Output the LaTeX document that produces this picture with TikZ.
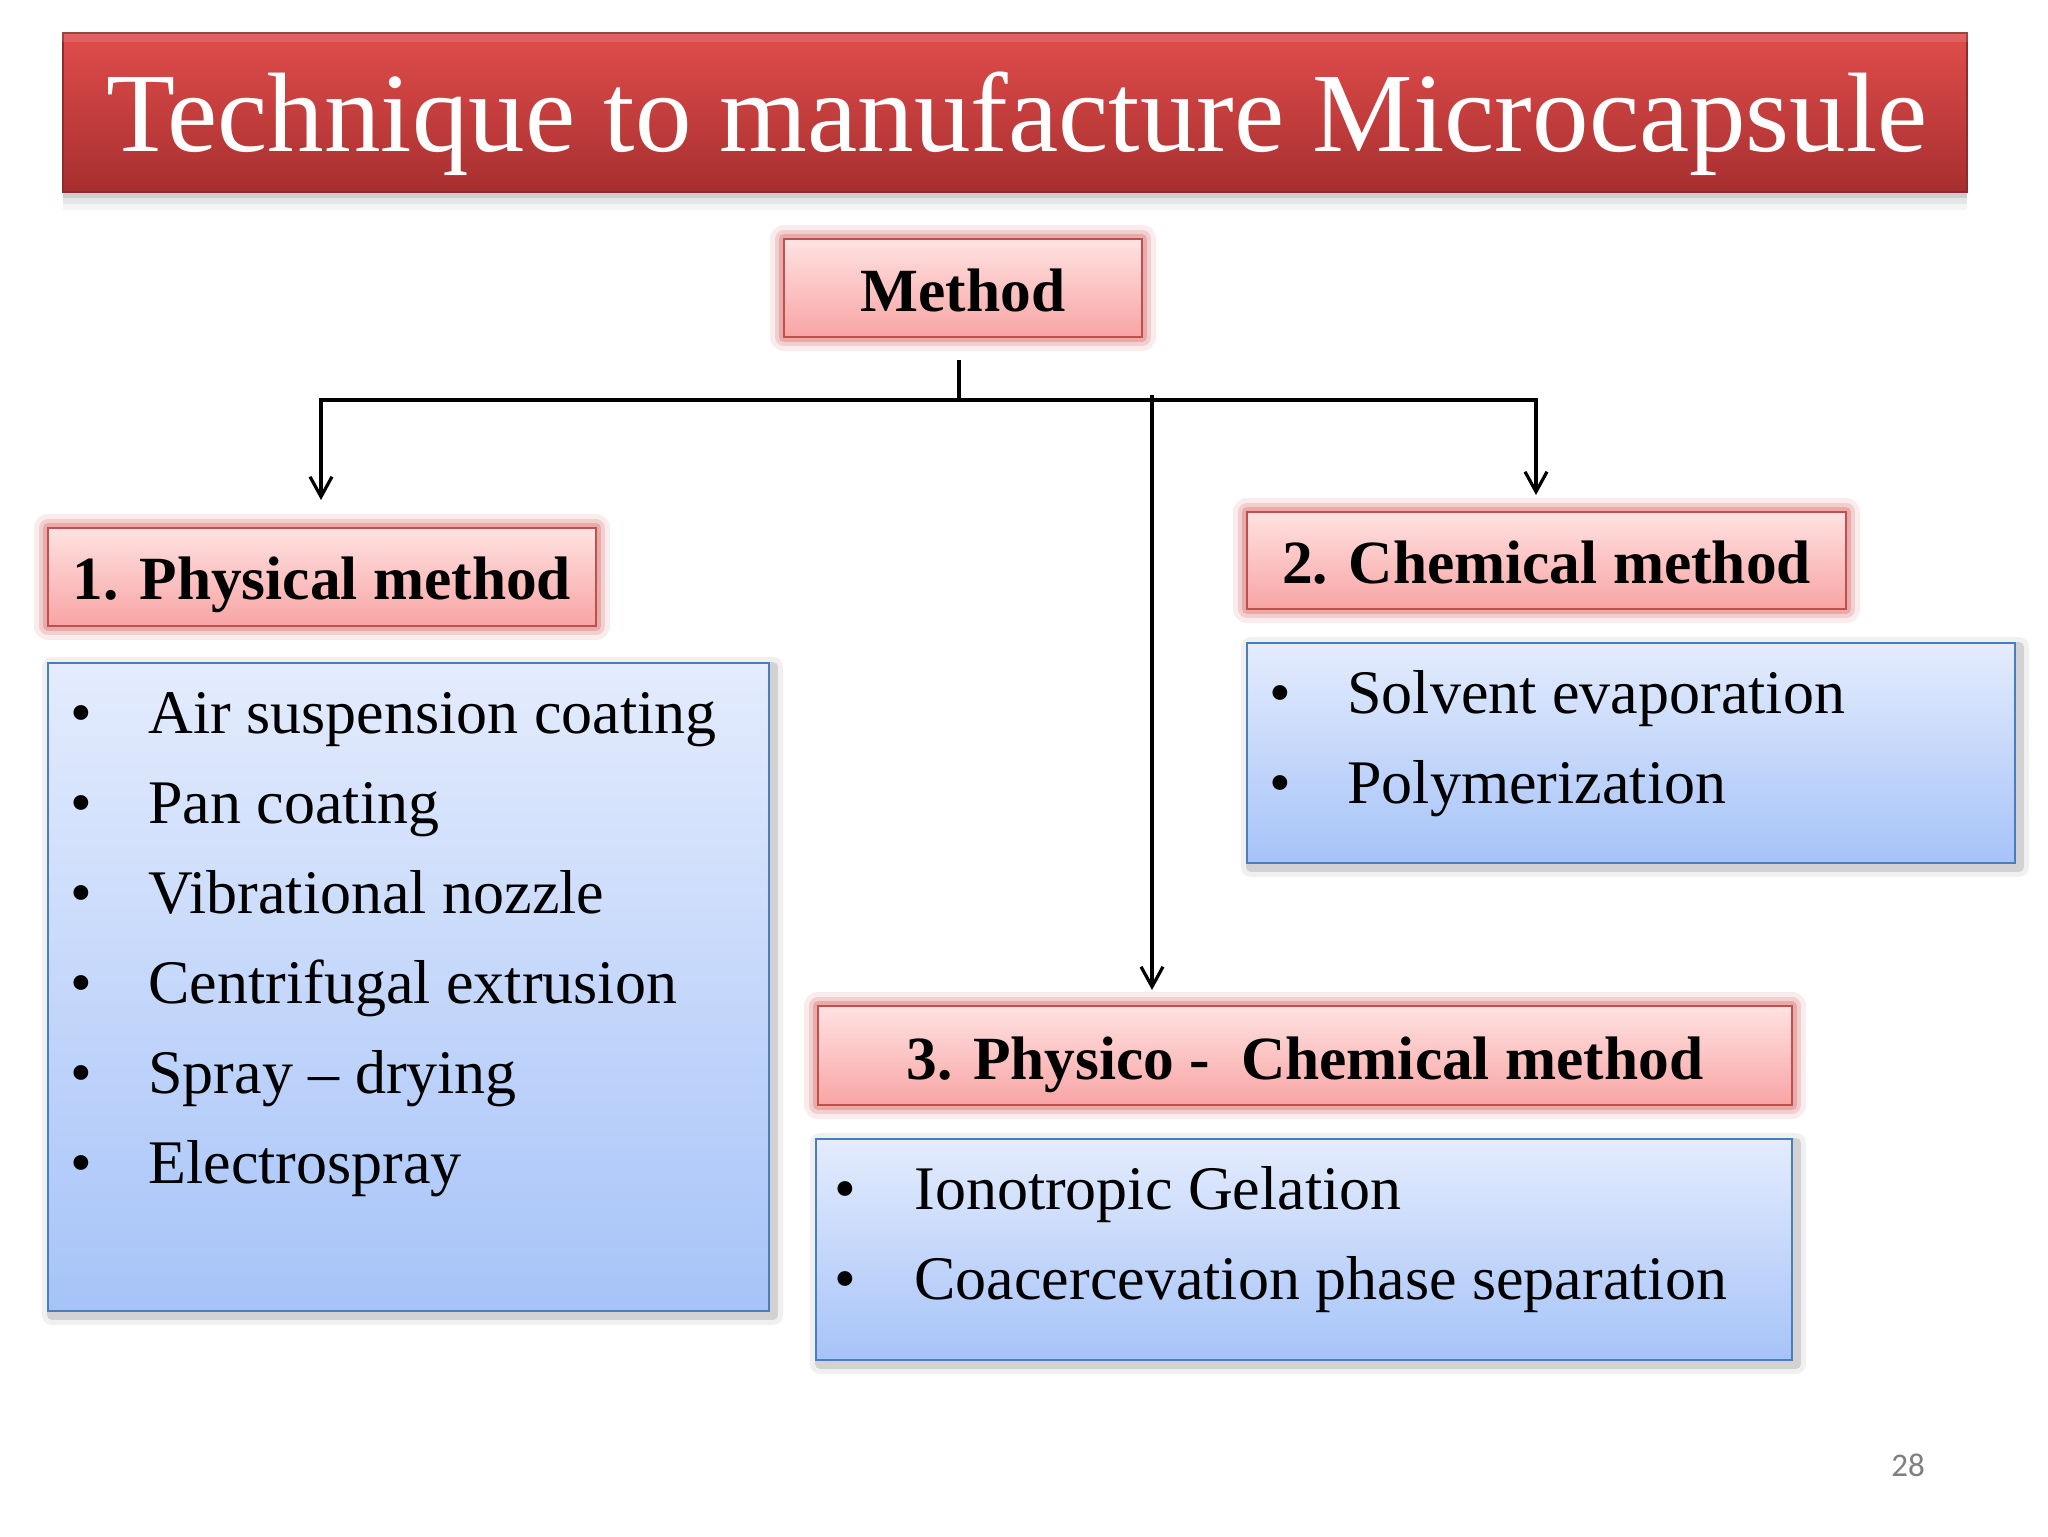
\documentclass[tikz,border=0pt]{standalone}
\usepackage{fontspec}
\setmainfont{Liberation Serif}
\newfontfamily\numfont{Carlito}
\usetikzlibrary{arrows.meta}
\definecolor{pinkT}{HTML}{FFE2E2}
\definecolor{pinkB}{HTML}{F8A4A4}
\definecolor{pinkE}{HTML}{C0504D}
\definecolor{glowC}{HTML}{D24C4D}
\definecolor{blueT}{HTML}{E4ECFD}
\definecolor{blueB}{HTML}{A6C3F8}
\definecolor{blueE}{HTML}{4A7EBB}
\definecolor{titleT}{HTML}{E04D4B}
\definecolor{titleB}{HTML}{A72F2F}
\definecolor{titleE}{HTML}{8E2B2B}
\definecolor{pgnum}{HTML}{7F7F7F}
\tikzset{
  pinkbox/.style={draw=pinkE, line width=1.2pt, top color=pinkT, bottom color=pinkB, inner sep=0pt,
    preaction={draw=glowC, opacity=0.10, line width=14pt, line join=round},
    preaction={draw=glowC, opacity=0.18, line width=9pt, line join=round},
    preaction={draw=glowC, opacity=0.28, line width=5pt, line join=round}},
  bluebox/.style={draw=blueE, line width=1.2pt, top color=blueT, bottom color=blueB, inner sep=0pt,
    preaction={draw=black, opacity=0.06, line width=10pt, line join=round, transform canvas={xshift=2pt,yshift=-2pt}},
    preaction={draw=black, opacity=0.12, line width=5pt, line join=round, transform canvas={xshift=2pt,yshift=-2pt}}},
  titlebox/.style={draw=titleE, line width=1pt, top color=titleT, bottom color=titleB, inner sep=0pt,
    preaction={fill=black, opacity=0.04, transform canvas={yshift=-9pt}},
    preaction={fill=black, opacity=0.06, transform canvas={yshift=-6pt}},
    preaction={fill=black, opacity=0.10, transform canvas={yshift=-3pt}}},
  hdtext/.style={font=\bfseries\fontsize{30.7}{36}\selectfont, anchor=base, inner sep=0pt},
  itemtext/.style={font=\fontsize{31}{36}\selectfont, anchor=base west, inner sep=0pt},
  bultext/.style={font=\fontsize{31}{36}\selectfont, anchor=base, inner sep=0pt},
  conn/.style={line width=1.6pt, draw=black},
  arr/.style={conn, -{Straight Barb[length=10pt,width=11pt]}}
}
\begin{document}
\begin{tikzpicture}[x=0.5pt,y=-0.5pt]
\useasboundingbox (0,0) rectangle (2048,1536);
\fill[white] (0,0) rectangle (2048,1536);

% title
\node[titlebox, minimum width=952pt, minimum height=79.5pt] (title) at (1015,112.5) {};
\fill[white, opacity=0.12] (title.north west) rectangle ([yshift=-5pt]title.north east);
\node[font=\fontsize{56.5}{68}\selectfont, text=white, anchor=base, inner sep=0pt] (titlet) at (1017,151) {Technique to manufacture Microcapsule};

% method
\node[pinkbox, minimum width=179pt, minimum height=49pt] (method) at (963,288) {};
\node[hdtext] (methodt) at (963,311) {Method};

% labels
\node[pinkbox, minimum width=274pt, minimum height=49pt] (phys) at (322,577) {};
\node[hdtext] (physt) at (322,599) {1. Physical method};
\node[pinkbox, minimum width=299.5pt, minimum height=48.5pt] (chem) at (1546.5,560.5) {};
\node[hdtext] (chemt) at (1546.5,583) {2. Chemical method};
\node[pinkbox, minimum width=487pt, minimum height=49.5pt] (pc) at (1305,1055.5) {};
\node[hdtext] (pct) at (1305,1079) {3. Physico -\ \ Chemical method};

% lists
\node[bluebox, minimum width=360.5pt, minimum height=324pt] (physl) at (408.5,987) {};
\node[bluebox, minimum width=384pt, minimum height=110pt] (cheml) at (1631,753) {};
\node[bluebox, minimum width=488pt, minimum height=110.5pt] (pcl) at (1304,1249.5) {};

\foreach \t [count=\i] in {Air suspension coating, Pan coating, Vibrational nozzle, Centrifugal extrusion, Spray -- drying, Electrospray}{
  \node[bultext] (pb\i) at (81,{733+90*(\i-1)}) {•};
  \node[itemtext] (pi\i) at (148,{733+90*(\i-1)}) {\t};
}
\node[bultext] (cb1) at (1280,713) {•};
\node[itemtext] (ci1) at (1347,713) {Solvent evaporation};
\node[bultext] (cb2) at (1280,803) {•};
\node[itemtext] (ci2) at (1347,803) {Polymerization};
\node[bultext] (qb1) at (845,1209) {•};
\node[itemtext] (qi1) at (914,1209) {Ionotropic Gelation};
\node[bultext] (qb2) at (845,1299) {•};
\node[itemtext] (qi2) at (914,1299) {Coacercevation phase separation};

% connectors
\coordinate (m0) at (959,360);
\coordinate (j) at (959,400);
\coordinate (jl) at (321,400);
\coordinate (jr) at (1536,400);
\coordinate (jm) at (1152,395);
\coordinate (al) at (321,500);
\coordinate (ar) at (1536,495);
\coordinate (am) at (1152,990);
\draw[conn] (m0) -- (j);
\draw[conn, line cap=rect] (jl) -- (jr);
\draw[arr] (jl) -- (al);
\draw[arr] (jr) -- (ar);
\draw[arr] (jm) -- (am);

% page number
\node[font=\numfont\fontsize{16.5}{20}\selectfont, text=pgnum, anchor=base, inner sep=0pt] (pg) at (1908,1476) {28};
\end{tikzpicture}
\end{document}
